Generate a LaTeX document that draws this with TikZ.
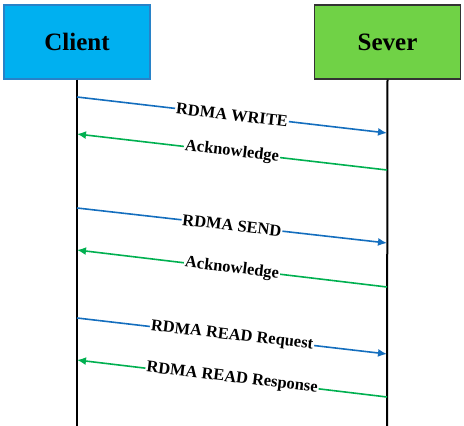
\documentclass[tikz,border=0pt]{standalone}
\usepackage{fontspec}
\setmainfont{Liberation Serif}
\usetikzlibrary{arrows.meta}
\definecolor{cbox}{RGB}{0,176,240}
\definecolor{cboxd}{RGB}{40,130,200}
\definecolor{sbox}{RGB}{112,210,70}
\definecolor{blarr}{RGB}{20,110,190}
\definecolor{grarr}{RGB}{0,176,80}
\begin{document}
\begin{tikzpicture}[x=1pt,y=-1pt,
  actor/.style={draw, line width=1.2pt, minimum width=146pt, minimum height=74pt, font=\fontsize{25}{29}\selectfont\bfseries},
  life/.style={line width=2pt, black},
  msg/.style={line width=1.6pt, -{Latex[length=9pt,width=8pt]}},
  lbl/.style={midway, sloped, fill=white, inner sep=1pt, font=\fontsize{16.5}{19}\selectfont\bfseries}]
\useasboundingbox (0,0) rectangle (464,426);
\node[actor, fill=cbox, draw=cboxd] (client) at (77,42) {Client};
\node[actor, fill=sbox, draw=black!80] (server) at (387.5,42) {Sever};
\coordinate (cend) at (77,426);
\coordinate (send) at (387,426);
\draw[life] (client.south) -- (cend);
\draw[life] (server.south) -- (send);
\coordinate (c1) at (77,97);  \coordinate (s1) at (387,133);
\coordinate (s2) at (387,170); \coordinate (c2) at (77,134);
\coordinate (c3) at (77,208); \coordinate (s3) at (387,243);
\coordinate (s4) at (387,287); \coordinate (c4) at (77,250);
\coordinate (c5) at (77,318); \coordinate (s5) at (387,354);
\coordinate (s6) at (387,397); \coordinate (c6) at (77,360);
\draw[msg, blarr] (c1) -- node[lbl, text=black] {RDMA WRITE} (s1);
\draw[msg, grarr] (s2) -- node[lbl, text=black] {Acknowledge} (c2);
\draw[msg, blarr] (c3) -- node[lbl, text=black] {RDMA SEND} (s3);
\draw[msg, grarr] (s4) -- node[lbl, text=black] {Acknowledge} (c4);
\draw[msg, blarr] (c5) -- node[lbl, text=black] {RDMA READ Request} (s5);
\draw[msg, grarr] (s6) -- node[lbl, text=black] {RDMA READ Response} (c6);
\end{tikzpicture}
\end{document}
